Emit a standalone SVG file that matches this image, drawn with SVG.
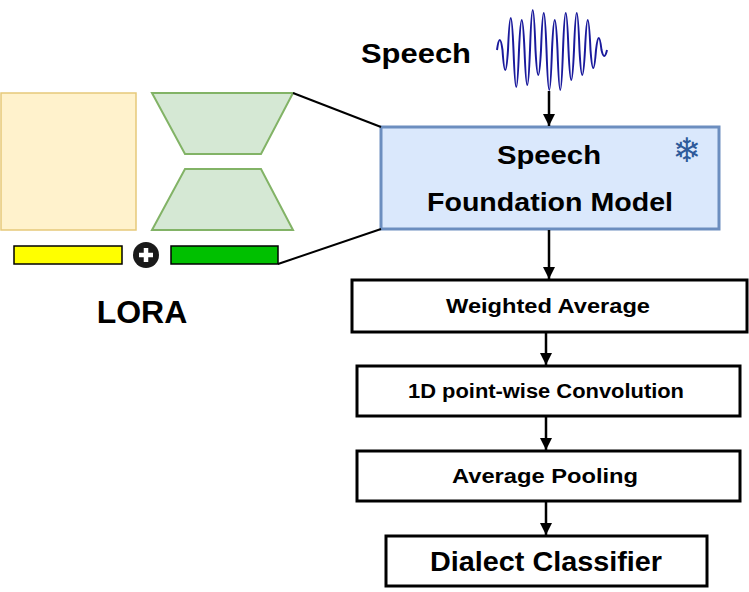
<svg xmlns="http://www.w3.org/2000/svg" width="749" height="592" viewBox="0 0 749 592">
<defs>
<style>
text{font-family:"Liberation Sans",Arial,sans-serif;font-weight:bold;fill:#000;text-anchor:middle}
.box{fill:#fff;stroke:#000;stroke-width:3}
.c{stroke:#000;stroke-width:2.5;fill:none}
</style>
<marker id="ah" viewBox="0 0 10 10" refX="10" refY="5" markerWidth="5" markerHeight="5" orient="auto"><path d="M0,0L10,5L0,10z" fill="#000"/></marker>
</defs>
<rect width="749" height="592" fill="#fff"/>
<g id="speech">
<text x="416" y="63" font-size="28" textLength="110" lengthAdjust="spacingAndGlyphs">Speech</text>
<path d="M497,50 q2.75,-20 5.5,0 q2.75,40 5.5,0 q2.75,-64 5.5,0 q2.75,74 5.5,0 q2.75,-60 5.5,0 q2.75,70 5.5,0 q2.75,-80 5.5,0 q2.75,50 5.5,0 q2.75,-74 5.5,0 q2.75,80 5.5,0 q2.75,-60 5.5,0 q2.75,80 5.5,0 q2.75,-74 5.5,0 q2.75,60 5.5,0 q2.75,-74 5.5,0 q2.75,50 5.5,0 q2.75,-60 5.5,0 q2.75,36 5.5,0 q2.75,-24 5.5,0 q2.75,12 5.5,0" fill="none" stroke="#1a1a9c" stroke-width="2"/>
</g>
<g id="lora">
<rect x="1" y="93" width="135" height="137" fill="#fff2cc" stroke="#e6c97a" stroke-width="1.5"/>
<polygon points="152,93 293,93 261,154 185,154" fill="#d5e8d4" stroke="#82b366" stroke-width="2"/>
<polygon points="185,169 261,169 293,230 152,230" fill="#d5e8d4" stroke="#82b366" stroke-width="2"/>
<rect x="14" y="246" width="108" height="18" fill="#ffff00" stroke="#000" stroke-width="1.5"/>
<circle cx="146" cy="255" r="13" fill="#1a1a1a"/>
<path d="M146,248v14M139,255h14" stroke="#fff" stroke-width="4.5"/>
<rect x="171" y="246" width="107" height="18" fill="#00c000" stroke="#000" stroke-width="1.5"/>
<text x="142" y="323" font-size="32">LORA</text>
</g>
<g id="sfm">
<rect x="381" y="127" width="338" height="102" fill="#dae8fc" stroke="#6c8ebf" stroke-width="3"/>
<text x="549" y="164" font-size="26" textLength="104" lengthAdjust="spacingAndGlyphs">Speech</text>
<text x="550" y="211" font-size="26" textLength="246" lengthAdjust="spacingAndGlyphs">Foundation Model</text>
<text x="687" y="162" font-size="34" style="fill:#2d5a9a;font-weight:normal;font-family:'DejaVu Sans',sans-serif">❄</text>
</g>
<g id="wavg"><rect class="box" x="352" y="280" width="395" height="52"/><text x="548" y="313" font-size="20" textLength="204" lengthAdjust="spacingAndGlyphs">Weighted Average</text></g>
<g id="conv"><rect class="box" x="357" y="366" width="383" height="50"/><text x="546" y="398" font-size="20" textLength="276" lengthAdjust="spacingAndGlyphs">1D point-wise Convolution</text></g>
<g id="pool"><rect class="box" x="357" y="451" width="383" height="50"/><text x="545" y="483" font-size="20" textLength="186" lengthAdjust="spacingAndGlyphs">Average Pooling</text></g>
<g id="cls"><rect class="box" x="386" y="536" width="321" height="50"/><text x="546" y="571" font-size="27" textLength="232" lengthAdjust="spacingAndGlyphs">Dialect Classifier</text></g>
<g id="connectors">
<line class="c" x1="293" y1="93" x2="381" y2="127" style="stroke-width:2"/>
<line class="c" x1="278" y1="264" x2="381" y2="229" style="stroke-width:2"/>
<line class="c" x1="549" y1="91" x2="549" y2="126" marker-end="url(#ah)"/>
<line class="c" x1="549" y1="230" x2="549" y2="279" marker-end="url(#ah)"/>
<line class="c" x1="546" y1="333" x2="546" y2="365" marker-end="url(#ah)"/>
<line class="c" x1="546" y1="417" x2="546" y2="450" marker-end="url(#ah)"/>
<line class="c" x1="546" y1="502" x2="546" y2="535" marker-end="url(#ah)"/>
</g>
</svg>
